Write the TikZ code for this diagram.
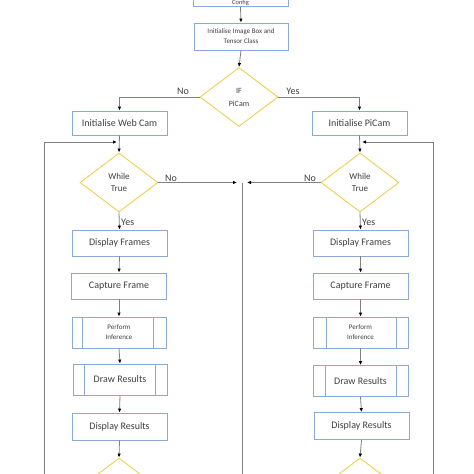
\documentclass[tikz,border=0pt]{standalone}
\usepackage{fontspec}
\setmainfont{Carlito}
\usetikzlibrary{shapes.geometric,arrows.meta}
\definecolor{boxblue}{RGB}{140,168,214}
\definecolor{diayel}{RGB}{240,206,80}
\definecolor{txt}{RGB}{64,64,64}
\definecolor{ln}{RGB}{128,128,128}
\begin{document}
\begin{tikzpicture}[x=1pt,y=-1pt,
  box/.style={draw=boxblue,line width=0.8pt,fill=white,text=txt,align=center,inner sep=1pt,
    font=\fontsize{10}{12}\selectfont,minimum width=95pt,minimum height=26pt},
  subbox/.style={box,minimum height=31pt},
  dia/.style={diamond,draw=diayel,line width=0.9pt,fill=white,text=txt,align=center,inner sep=0pt,
    minimum width=78pt,minimum height=59pt,font=\fontsize{9}{12}\selectfont},
  conn/.style={draw=ln,line width=0.8pt},
  arr/.style={conn,-{Latex[black,length=4pt,width=3.5pt]}},
  lab/.style={text=txt,font=\fontsize{10}{12}\selectfont,inner sep=0pt},
  inner/.style={draw=boxblue,line width=0.8pt}]
\useasboundingbox (0,0) rectangle (474,474);
\clip (0,0) rectangle (474,474);
\fill[white] (0,0) rectangle (474,474);

% top column
\node[box,anchor=south,minimum height=0pt,text height=23pt,text depth=1pt,font=\fontsize{6.5}{8}\selectfont] (cfg) at (240.5,7) {Config};
\node[box,minimum width=94pt,minimum height=27pt,font=\fontsize{7}{10}\selectfont] (init) at (241,36.5) {Initialise Image Box and\\Tensor Class};
\node[dia,font=\fontsize{8}{13}\selectfont] (ifpi) at (239,97) {IF\\PiCam};

\node[box,minimum height=24pt] (web) at (119.5,123) {Initialise Web Cam};
\node[box,minimum height=24pt] (pic) at (359.5,123) {Initialise PiCam};

\node[dia] (wl) at (119,182.5) {While\\True};
\node[dia] (wr) at (360,182.5) {While\\True};

\node[box] (dfl) at (119.5,243) {Display Frames};
\node[box] (dfr) at (360.5,243) {Display Frames};
\node[box] (cfl) at (119,286) {Capture Frame};
\node[box] (cfr) at (360.5,286) {Capture Frame};
\node[subbox,minimum width=94pt,font=\fontsize{7}{10}\selectfont] (pil) at (119,332.5) {Perform\\Inference};
\node[subbox,font=\fontsize{7}{10}\selectfont] (pir) at (360.5,332.5) {Perform\\Inference};
\node[subbox,minimum width=94pt] (drl) at (120,379.5) {Draw Results};
\node[subbox] (drr) at (360.5,381) {Draw Results};
\node[box,minimum height=27pt] (rsl) at (119.5,426.5) {Display Results};
\node[box,minimum height=27pt] (rsr) at (361.5,426) {Display Results};
\node[dia] (bl) at (119,487.5) {};
\node[dia] (br) at (360,487.5) {};

% subroutine inner lines
\draw[inner] ([xshift=11pt]pil.north west) -- ([xshift=11pt]pil.south west);
\draw[inner] ([xshift=-13pt]pil.north east) -- ([xshift=-13pt]pil.south east);
\draw[inner] ([xshift=14pt]pir.north west) -- ([xshift=14pt]pir.south west);
\draw[inner] ([xshift=-12pt]pir.north east) -- ([xshift=-12pt]pir.south east);
\draw[inner] ([xshift=12pt]drl.north west) -- ([xshift=12pt]drl.south west);
\draw[inner] ([xshift=-12pt]drl.north east) -- ([xshift=-12pt]drl.south east);
\draw[inner] ([xshift=13pt]drr.north west) -- ([xshift=13pt]drr.south west);
\draw[inner] ([xshift=-12pt]drr.north east) -- ([xshift=-12pt]drr.south east);

% coordinates
\coordinate (mid) at (242,182.5);
\coordinate (midend) at (242,480);
\coordinate (lx) at (44,142);
\coordinate (rx) at (433,142);
\coordinate (loopl) at (117,142);
\coordinate (loopr) at (362,142);

% connectors
\draw[arr] (cfg.south) -- (init.north);
\draw[arr] (init.south) -- (ifpi.north);
\draw[arr] (ifpi.west) -| (web.north);
\draw[arr] (ifpi.east) -| (pic.north);
\node[lab] at (183,91) {No};
\node[lab] at (293,91) {Yes};

\draw[arr] (web.south) -- (wl.north);
\draw[arr] (pic.south) -- (wr.north);
\draw[arr] (wl.east) -- ([xshift=-5pt]mid);
\draw[arr] (wr.west) -- ([xshift=5pt]mid);
\draw[conn] (mid) -- (midend);
\node[lab] at (171,178) {No};
\node[lab] at (310,178) {No};

\draw[arr] (wl.south) -- (dfl.north);
\draw[arr] (wr.south) -- (dfr.north);
\node[lab,anchor=west] at (121,222) {Yes};
\node[lab,anchor=west] at (362,222) {Yes};

\draw[arr] (dfl.south) -- (cfl.north);
\draw[arr] (cfl.south) -- (pil.north);
\draw[arr] (pil.south) -- (drl.north);
\draw[arr] (drl.south) -- (rsl.north);
\draw[arr] (rsl.south) -- (bl.north);
\draw[arr] (dfr.south) -- (cfr.north);
\draw[arr] (cfr.south) -- (pir.north);
\draw[arr] (pir.south) -- (drr.north);
\draw[arr] (drr.south) -- (rsr.north);
\draw[arr] (rsr.south) -- (br.north);

% loops
\draw[arr] (bl.west) -| (lx) -- (loopl);
\draw[arr] (br.east) -| (rx) -- (loopr);
\end{tikzpicture}
\end{document}
